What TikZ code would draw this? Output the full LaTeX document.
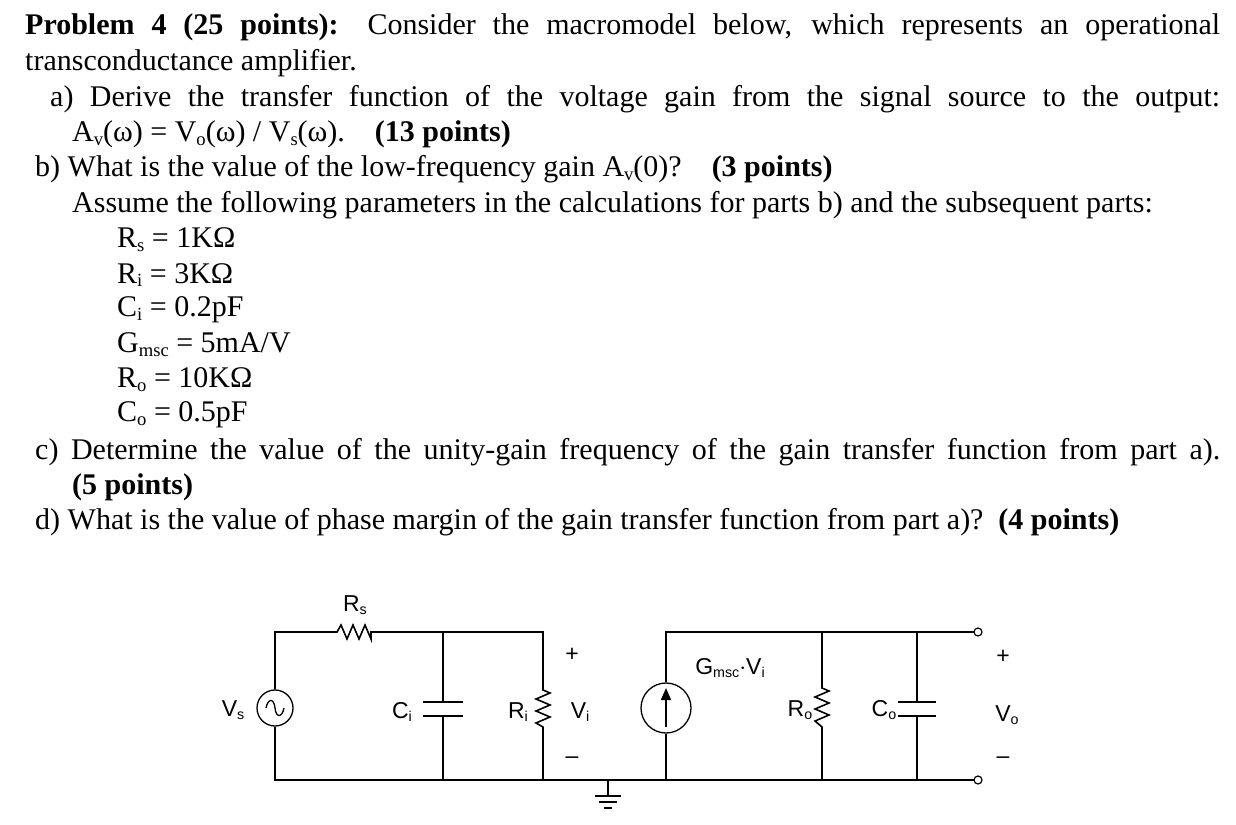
\documentclass[tikz,border=0pt]{standalone}
\usepackage{fontspec}
\setmainfont{Liberation Serif}
\newfontfamily\arial{Liberation Sans}
\usetikzlibrary{arrows.meta}
\newcommand{\sbs}[1]{\raisebox{-0.28ex}{\scalebox{0.62}{#1}}}
\begin{document}
\begin{tikzpicture}[x=1pt,y=-1pt,
  txt/.style={anchor=west,inner sep=0pt,font=\fontsize{30}{33}\selectfont},
  lbl/.style={inner sep=0pt,font=\arial\fontsize{23}{25}\selectfont},
  wire/.style={line width=1.6pt},
  term/.style={circle,draw,line width=1.2pt,minimum size=8pt,inner sep=0pt}]
\useasboundingbox (0,0) rectangle (1236,824);
% text
\node[txt] (l1) at (25,27) {\makebox[1195pt][s]{\textbf{Problem 4 (25 points):} Consider the macromodel below, which represents an operational}};
\node[txt] (l2) at (25,63) {transconductance amplifier.};
\node[txt] (l3) at (50,99) {\makebox[1170pt][s]{a) Derive the transfer function of the voltage gain from the signal source to the output:}};
\node[txt] (l4) at (72,134) {A\sbs{v}(ω) = V\sbs{o}(ω) / V\sbs{s}(ω).\quad \textbf{(13 points)}};
\node[txt] (l5) at (35,169) {b) What is the value of the low-frequency gain A\sbs{v}(0)?\quad \textbf{(3 points)}};
\node[txt] (l6) at (72,205) {Assume the following parameters in the calculations for parts b) and the subsequent parts:};
\node[txt] (p1) at (117,240) {R\sbs{s} = 1KΩ};
\node[txt] (p2) at (117,275) {R\sbs{i} = 3KΩ};
\node[txt] (p3) at (117,310) {C\sbs{i} = 0.2pF};
\node[txt] (p4) at (117,345) {G\sbs{msc} = 5mA/V};
\node[txt] (p5) at (117,380) {R\sbs{o} = 10KΩ};
\node[txt] (p6) at (117,415) {C\sbs{o} = 0.5pF};
\node[txt] (l7) at (35,452) {\makebox[1185pt][s]{c) Determine the value of the unity-gain frequency of the gain transfer function from part a).}};
\node[txt] (l8) at (72,487) {\textbf{(5 points)}};
\node[txt] (l9) at (35,522) {d) What is the value of phase margin of the gain transfer function from part a)?\ \ \textbf{(4 points)}};
% circuit
\node[circle,draw,line width=1.3pt,minimum size=36pt,inner sep=0pt] (vs) at (275,708) {};
\draw[line width=1.3pt] (266,708) .. controls (268,698) and (274,698) .. (275,708) .. controls (276,718) and (282,718) .. (284,708);
\node[circle,draw,line width=1.3pt,minimum size=50pt,inner sep=0pt] (cs) at (666,708) {};
\draw[line width=1.6pt,-{Triangle[length=12pt,width=10pt]}] (666,727) -- (666,688);
\coordinate (tl) at (275,632); \coordinate (bl) at (275,780);
\coordinate (rs1) at (337,632); \coordinate (rs2) at (371,632);
\draw[wire] (vs.north) -- (tl) -- (rs1) -- ++(4,-7) -- ++(6,14) -- ++(6,-14) -- ++(6,14) -- ++(6,-14) -- ++(6,14) -- (rs2) -- (543,632) -- (543,690)
  -- ++(7,3) -- ++(-14,6) -- ++(14,6) -- ++(-14,6) -- ++(14,6) -- ++(-14,6) -- (543,727) -- (543,780);
\draw[wire] (vs.south) -- (bl) -- (978,780);
\draw[wire] (443,632) -- (443,702); \draw[wire] (443,716) -- (443,780);
\draw[wire] (423,702) -- (463,702); \draw[wire] (423,716) -- (463,716);
\draw[wire] (cs.north) -- (666,632) -- (974,632);
\draw[wire] (cs.south) -- (666,780);
\draw[wire] (822,632) -- (822,688) -- ++(7,3) -- ++(-14,6) -- ++(14,6) -- ++(-14,6) -- ++(14,6) -- ++(-14,6) -- (822,727) -- (822,780);
\draw[wire] (917,632) -- (917,702); \draw[wire] (917,716) -- (917,780);
\draw[wire] (898,702) -- (936,702); \draw[wire] (898,716) -- (936,716);
\node[term,fill=white] (t1) at (978,632) {};
\node[term,fill=white] (t2) at (978,780) {};
\draw[line width=1.3pt] (608,780) -- (608,796);
\draw[line width=1.3pt] (595,796) -- (621,796);
\draw[line width=1.3pt] (599,802) -- (617,802);
\draw[line width=1.3pt] (604,808) -- (612,808);
% labels
\node[lbl] (lrs) at (355,605) {R\sbs{s}};
\node[lbl] (lvs) at (233,710) {V\sbs{s}};
\node[lbl] (lci) at (402,712) {C\sbs{i}};
\node[lbl] (lri) at (518,712) {R\sbs{i}};
\node[lbl] (lvi) at (580,712) {V\sbs{i}};
\node[lbl] (lp1) at (572,655) {+};
\node[lbl] (lm1) at (572,760) {–};
\node[lbl] (lg) at (730,668) {G\sbs{msc}$\cdot$V\sbs{i}};
\node[lbl] (lro) at (800,710) {R\sbs{o}};
\node[lbl] (lco) at (884,710) {C\sbs{o}};
\node[lbl] (lp2) at (1003,657) {+};
\node[lbl] (lvo) at (1007,715) {V\sbs{o}};
\node[lbl] (lm2) at (1003,760) {–};
\end{tikzpicture}
\end{document}
